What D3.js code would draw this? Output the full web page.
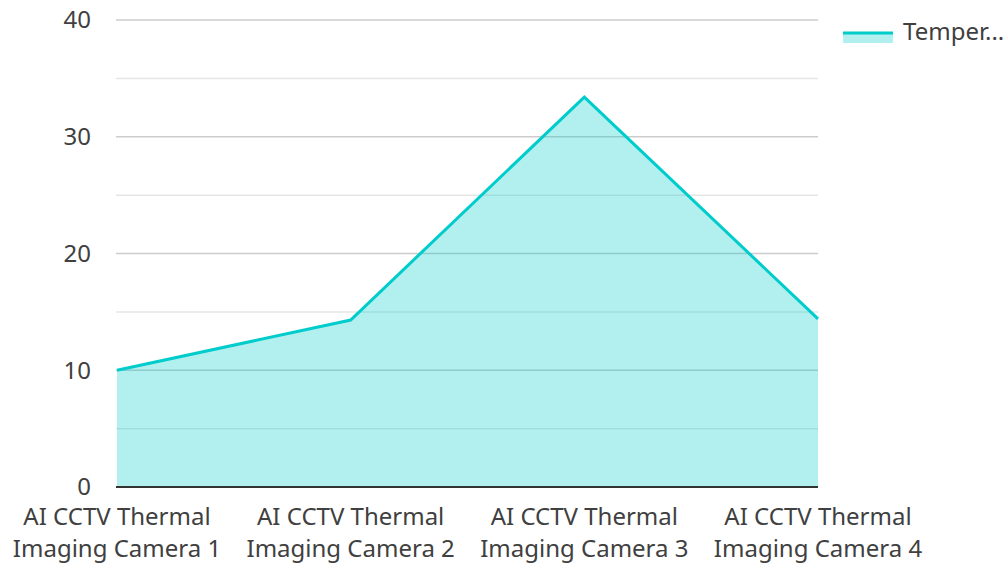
<!DOCTYPE html>
<html><head><meta charset="utf-8">
<script src="https://cdn.jsdelivr.net/npm/d3@7"></script>
<style>body{margin:0;background:#fff}svg{display:block;font-family:"Noto Sans",sans-serif}</style>
</head><body><svg id="c" width="1008" height="563"></svg>
<script>
const categories = ["AI CCTV Thermal Imaging Camera 1","AI CCTV Thermal Imaging Camera 2","AI CCTV Thermal Imaging Camera 3","AI CCTV Thermal Imaging Camera 4"];
const labelLines = [["AI CCTV Thermal","Imaging Camera 1"],["AI CCTV Thermal","Imaging Camera 2"],["AI CCTV Thermal","Imaging Camera 3"],["AI CCTV Thermal","Imaging Camera 4"]];
const temperature = [10.0, 14.3, 33.4, 14.4];
const majorTicks = [0,10,20,30,40];
const minorTicks = [5,15,25,35];
const seriesName = "Temper...";

const svg = d3.select("#c");
const x = d3.scalePoint().domain(categories).range([117, 818]);
const y = d3.scaleLinear().domain([0,40]).range([487, 20]);
const color = "#00cccc";
const textColor = "#404040";

const g = svg.append("g");
g.selectAll(".minor").data(minorTicks).join("line")
  .attr("x1",116).attr("x2",818).attr("y1",d=>y(d)).attr("y2",d=>y(d))
  .attr("stroke","#e6e6e6").attr("stroke-width",1.5);
g.selectAll(".major").data(majorTicks.filter(d=>d>0)).join("line")
  .attr("x1",116).attr("x2",818).attr("y1",d=>y(d)).attr("y2",d=>y(d))
  .attr("stroke","#cccccc").attr("stroke-width",1.5);

const data = categories.map((c,i)=>({c,v:temperature[i]}));
g.append("path").datum(data)
  .attr("d", d3.area().x(d=>x(d.c)).y0(y(0)).y1(d=>y(d.v)))
  .attr("fill", color).attr("fill-opacity",0.3);
g.append("path").datum(data)
  .attr("d", d3.line().x(d=>x(d.c)).y(d=>y(d.v)))
  .attr("fill","none").attr("stroke",color).attr("stroke-width",3).attr("stroke-linejoin","miter");

g.append("line").attr("x1",116).attr("x2",818).attr("y1",y(0)).attr("y2",y(0))
  .attr("stroke","#333").attr("stroke-width",2);

g.selectAll(".yl").data(majorTicks).join("text")
  .attr("x",91).attr("y",d=>y(d)).attr("dy","0.35em").attr("text-anchor","end")
  .attr("font-size",24).attr("fill",textColor).text(d=>d);

const xl = g.selectAll(".xl").data(categories).join("text")
  .attr("text-anchor","middle").attr("font-size",24).attr("fill",textColor);
xl.each(function(d,i){
  const t = d3.select(this);
  labelLines[i].forEach((s,j)=>{
    t.append("tspan").attr("x",x(d)).attr("y",525+j*32).text(s);
  });
});

// legend
svg.append("rect").attr("x",843).attr("y",33).attr("width",50).attr("height",10)
  .attr("fill",color).attr("fill-opacity",0.3);
svg.append("line").attr("x1",843).attr("x2",893).attr("y1",33).attr("y2",33)
  .attr("stroke",color).attr("stroke-width",3);
svg.append("text").attr("x",903).attr("y",32).attr("dy","0.35em")
  .attr("font-size",24).attr("fill",textColor).text(seriesName);
</script></body></html>
